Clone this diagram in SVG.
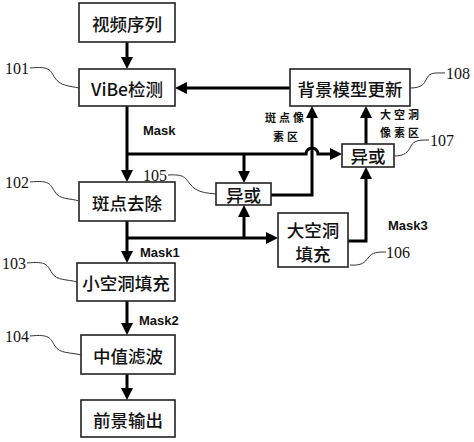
<svg xmlns="http://www.w3.org/2000/svg" width="474" height="442" viewBox="0 0 474 442">
<style>
.box{fill:#fff;stroke:#222;stroke-width:1.6}
.t{font-family:"Noto Sans CJK SC","Noto Sans CJK JP",sans-serif;font-size:17.5px;font-weight:500;fill:#111;text-anchor:middle;dominant-baseline:central}
.m{font-family:"Liberation Sans","DejaVu Sans",sans-serif;font-size:13px;font-weight:bold;fill:#111}
.s{font-family:"Noto Sans CJK SC",sans-serif;font-size:11px;font-weight:bold;fill:#111;letter-spacing:3px}
.n{font-family:"Liberation Serif","DejaVu Serif",serif;font-size:16px;fill:#111}
.c{fill:none;stroke:#000;stroke-width:3}
.ld{fill:none;stroke:#333;stroke-width:1}
</style>
<defs>
<marker id="ah" viewBox="0 -6 12 12" refX="2" refY="0" markerWidth="12" markerHeight="12" markerUnits="userSpaceOnUse" orient="auto">
<path d="M0,-6 L12,0 L0,6 z" fill="#000"/>
</marker>
</defs>
<g id="connectors">
<line class="c" x1="127" y1="42" x2="127" y2="59" marker-end="url(#ah)"/>
<line class="c" x1="127" y1="106" x2="127" y2="172" marker-end="url(#ah)"/>
<line class="c" x1="290" y1="88" x2="185" y2="88" marker-end="url(#ah)"/>
<path class="c" d="M127,154 H306 A6 6 0 0 1 318,154 H332" marker-end="url(#ah)"/>
<line class="c" x1="244" y1="154" x2="244" y2="173" marker-end="url(#ah)"/>
<path class="c" d="M271,195 H312 V116" marker-end="url(#ah)"/>
<line class="c" x1="366" y1="144" x2="366" y2="116" marker-end="url(#ah)"/>
<line class="c" x1="127" y1="221" x2="127" y2="253" marker-end="url(#ah)"/>
<path class="c" d="M127,238 H268" marker-end="url(#ah)"/>
<line class="c" x1="244" y1="238" x2="244" y2="215" marker-end="url(#ah)"/>
<path class="c" d="M348,241 H366 V177" marker-end="url(#ah)"/>
<line class="c" x1="127" y1="301" x2="127" y2="325" marker-end="url(#ah)"/>
<line class="c" x1="127" y1="374" x2="127" y2="390" marker-end="url(#ah)"/>
<text class="m" x="143" y="135">Mask</text>
<text class="m" x="140" y="257">Mask1</text>
<text class="m" x="139" y="325">Mask2</text>
<text class="m" x="388" y="230">Mask3</text>
<text class="s" x="265" y="122">斑点像</text>
<text class="s" x="273" y="141">素区</text>
<text class="s" x="380" y="119">大空洞</text>
<text class="s" x="380" y="137">像素区</text>
</g>
<g id="n-video"><rect class="box" x="79" y="3" width="96" height="39"/><text class="t" x="127" y="23">视频序列</text></g>
<g id="n101"><rect class="box" x="79" y="69" width="96" height="37"/><text class="t" x="127" y="88">ViBe检测</text>
<text class="n" x="5" y="74">101</text><path class="ld" d="M30,68 C50,66 50,70 55,78 C60,86 70,86 79,88"/></g>
<g id="n102"><rect class="box" x="79" y="182" width="96" height="39"/><text class="t" x="127" y="202">斑点去除</text>
<text class="n" x="5" y="188">102</text><path class="ld" d="M30,182 C50,180 50,184 55,192 C60,200 70,198 79,201"/></g>
<g id="n103"><rect class="box" x="77" y="263" width="98" height="38"/><text class="t" x="126" y="282">小空洞填充</text>
<text class="n" x="2" y="269">103</text><path class="ld" d="M27,263 C47,261 47,265 52,273 C57,281 67,279 77,282"/></g>
<g id="n104"><rect class="box" x="81" y="335" width="94" height="39"/><text class="t" x="128" y="355">中值滤波</text>
<text class="n" x="5" y="342">104</text><path class="ld" d="M30,336 C50,334 50,338 55,346 C60,354 70,352 81,355"/></g>
<g id="n-out"><rect class="box" x="81" y="400" width="94" height="37"/><text class="t" x="128" y="419">前景输出</text></g>
<g id="n105"><rect class="box" x="216" y="183" width="55" height="22"/><text class="t" x="243.5" y="194">异或</text>
<text class="n" x="143" y="181">105</text><path class="ld" d="M168,175 C185,174 185,178 190,184 C196,192 205,193 216,194"/></g>
<g id="n106"><rect class="box" x="278" y="213" width="70" height="54"/><text class="t" x="313" y="229">大空洞</text><text class="t" x="313" y="253">填充</text>
<text class="n" x="386" y="258">106</text><path class="ld" d="M350,265 C362,266 365,262 368,258 C372,252 378,252 386,252"/></g>
<g id="n107"><rect class="box" x="342" y="144" width="52" height="23"/><text class="t" x="368" y="155.5">异或</text>
<text class="n" x="430" y="146">107</text><path class="ld" d="M394,156 C405,156 408,152 411,146 C414,140 420,140 429,140"/></g>
<g id="n108"><rect class="box" x="290" y="69" width="120" height="37"/><text class="t" x="350" y="88">背景模型更新</text>
<text class="n" x="446" y="79">108</text><path class="ld" d="M410,88 C422,88 424,84 427,78 C430,72 436,73 445,73"/></g>
</svg>
